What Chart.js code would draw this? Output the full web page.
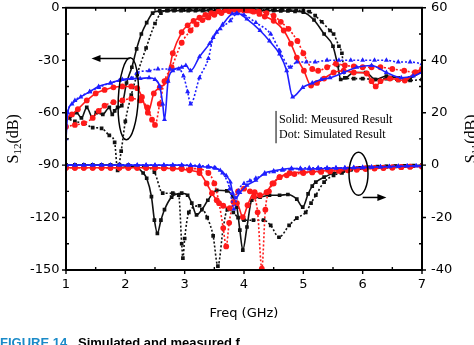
<!DOCTYPE html>
<html>
<head>
<meta charset="utf-8">
<script src="https://cdn.jsdelivr.net/npm/chart.js@4.4.0/dist/chart.umd.min.js"></script>
<style>
  html, body { margin: 0; padding: 0; background: #fff; }
  #wrap { width: 474px; height: 345px; position: relative; }
</style>
</head>
<body>
<div id="wrap"><canvas id="chart"></canvas></div>
<script>
// S12 curves, left axis (dB)
const s12BlackMeasFreq = [1.0,1.06,1.18,1.26,1.35,1.45,1.51,1.62,1.73,1.78, 1.82,1.87,1.94,2.02,2.11,2.19,2.27,2.36,2.46,2.58, 2.7,2.82,2.94,3.06,3.18,3.3,3.42,3.54,3.66,3.78, 3.9,4.02,4.14,4.26,4.38,4.5,4.62,4.74,4.86,5.0, 5.18,5.35,5.5,5.58,5.63,5.72,5.85,6.05,6.22,6.4, 6.6,6.8,7.0];
const s12BlackMeasDb   = [-62,-63,-60,-63,-57,-63,-60,-61,-57,-61, -59,-57,-56,-43,-34,-23.5,-15,-8.5,-3,-1.8, -1.6,-1.6,-1.6,-1.6,-1.6,-1.6,-1.6,-1.6,-1.6,-1.6, -1.6,-1.6,-1.6,-1.6,-1.7,-1.7,-1.8,-1.8,-2,-2.5, -7,-15,-22,-33,-41,-40,-37,-37,-41,-39, -40,-40,-36];
const s12BlackSimFreq  = [1.0,1.15,1.3,1.45,1.6,1.73,1.82,1.87,1.93,2.0, 2.1,2.2,2.35,2.5,2.6,2.72,2.84,2.96,3.08,3.2, 3.32,3.44,3.56,3.68,3.8,3.92,4.04,4.16,4.28,4.4, 4.52,4.64,4.76,4.88,5.0,5.1,5.2,5.31,5.45,5.51, 5.6,5.65,5.7,5.85,6.0,6.2,6.4,6.6,6.8,7.0];
const s12BlackSimDb    = [-63,-65,-66,-68.5,-69,-73,-77,-93,-82,-65, -50,-38,-23,-9,-3,-1.5,-1.2,-1.2,-1.2,-1.2, -1.2,-1.2,-1.2,-1.2,-1.2,-1.2,-1.2,-1.2,-1.2,-1.2, -1.2,-1.2,-1.3,-1.4,-1.6,-2.2,-4.5,-8,-13,-15, -22,-26,-40,-40.5,-40.5,-41,-40.5,-41.5,-41.6,-41];
const s12RedMeasFreq   = [1.0,1.1,1.2,1.35,1.5,1.65,1.8,1.95,2.1,2.2, 2.28,2.38,2.48,2.58,2.7,2.8,2.95,3.05,3.15,3.25, 3.35,3.45,3.57,3.7,3.82,3.94,4.06,4.16,4.26,4.35, 4.5,4.67,4.79,4.89,5.01,5.13,5.23,5.35,5.51,5.68, 5.85,6.07,6.15,6.22,6.3,6.46,6.6,6.71,6.88,7.0];
const s12RedMeasDb     = [-63,-61,-58,-53,-49,-47,-45.5,-45,-45,-46, -51,-60,-49,-45.6,-41.6,-26,-14,-10,-7.5,-5.7, -4,-3,-2,-1.2,-1,-1,-1.5,-2.2,-3.5,-5, -7.4,-13,-20.5,-28.5,-36,-44.5,-43,-40.5,-37,-36, -37,-37.6,-42,-45,-42,-40.5,-41,-41.6,-37,-35];
const s12RedSimFreq    = [1.0,1.15,1.3,1.45,1.55,1.65,1.8,1.95,2.1,2.25, 2.37,2.45,2.5,2.58,2.66,2.78,2.95,3.1,3.2,3.3, 3.4,3.5,3.62,3.75,3.88,4.0,4.12,4.25,4.38,4.5, 4.62,4.75,4.9,5.0,5.15,5.25,5.4,5.55,5.7,5.85, 6.0,6.15,6.3,6.5,6.7,6.9,7.0];
const s12RedSimDb      = [-68,-67,-66,-63,-59,-56,-54,-53,-52,-53, -57,-64,-67,-55,-42,-34,-20,-13,-9.5,-7, -5.5,-4,-3,-2,-1.5,-1.5,-1.7,-2,-3,-4.5, -8,-12,-19,-26,-35,-36,-34,-32,-33,-33.5, -34,-34,-34,-35,-36,-37,-36];
const s12BlueMeasFreq  = [1.0,1.03,1.1,1.25,1.4,1.55,1.75,1.95,2.1,2.25, 2.4,2.5,2.58,2.63,2.66,2.72,2.8,2.95,3.02,3.1, 3.25,3.42,3.54,3.64,3.8,3.88,4.05,4.27,4.43,4.6, 4.72,4.82,4.99,5.15,5.3,5.45,5.68,5.9,6.15,6.4, 6.65,6.85,7.0];
const s12BlueMeasDb    = [-75,-60,-55,-51,-48,-45,-43,-41,-40.5,-40.5, -40,-41,-45,-55,-64,-42,-36,-34,-33,-36, -28,-20.5,-14,-9.5,-3.5,-3,-6.5,-13,-19,-26.5, -36,-51,-45.6,-43,-41,-40,-37,-34,-33,-37, -40,-39,-37];
const s12BlueSimFreq   = [1.0,1.15,1.4,1.55,1.75,1.9,2.1,2.2,2.4,2.55, 2.75,2.9,2.98,3.05,3.1,3.25,3.4,3.48,3.6,3.77, 3.88,4.0,4.2,4.45,4.6,4.78,4.89,5.05,5.2,5.4, 5.6,5.8,6.0,6.2,6.4,6.6,6.8,7.0];
const s12BlueSimDb     = [-59,-53,-48,-45.6,-43,-41.6,-40.5,-37,-36,-35, -35,-35,-39,-48,-55,-40,-29,-17,-12,-7.4, -3.5,-4,-8.5,-15,-24.5,-34,-31,-31,-31,-30, -30,-30,-30,-30,-30,-31,-31,-32];

// S11 curves, right axis (dB)
const s11BlackMeasFreq = [1.0,1.15,1.3,1.45,1.6,1.75,1.9,2.05, 2.2,2.3,2.36,2.44,2.49,2.54,2.6,2.66,2.78,2.95, 3.05,3.12,3.2,3.29,3.39,3.54,3.71,3.81,3.88,3.93, 3.98,4.05,4.13,4.27,4.43,4.6,4.74,4.89,4.99,5.08, 5.15,5.21,5.35,5.51,5.65,5.8,5.95,6.1,6.25,6.4, 6.55,6.7,6.85,7.0];
const s11BlackMeasDb   = [0,0,0,0,0,0,0,-0.5, -1,-3,-5,-12,-21,-26,-21,-17,-12.2,-10.7, -11.5,-14.5,-19,-17,-13.4,-9.6,-9.8,-12,-16,-24.8, -32.4,-23.6,-13.4,-12.2,-11.5,-11.5,-11.2,-13,-16,-11, -8,-6.5,-4.6,-3.1,-2.5,-1.5,-1,-0.8,-0.6,-0.5, -0.4,-0.3,-0.2,0];
const s11BlackSimFreq  = [1.0,1.15,1.3,1.45,1.6,1.75,1.9,2.05,2.2,2.35, 2.49,2.63,2.8,2.9,2.95,2.97,3.0,3.07,3.25,3.38, 3.48,3.56,3.65,3.72,3.82,3.9,4.0,4.16,4.33,4.45, 4.59,4.76,4.89,5.04,5.13,5.21,5.35,5.51,5.65,5.8, 5.95,6.1,6.25,6.4,6.55,6.7,6.85,7.0];
const s11BlackSimDb    = [0,0,0,0,0,0,0,0,-0.3,-0.8, -2.7,-10.7,-10.7,-11.5,-30,-35.5,-28,-18,-15.5,-20, -27,-38.5,-24,-17,-18,-20,-21,-21,-21,-23, -27.5,-23,-20.2,-18,-14.5,-11.5,-6.5,-3.9,-3,-1.8, -1.2,-0.9,-0.7,-0.6,-0.5,-0.4,-0.3,-0.2];
const s11RedMeasFreq   = [1.0,1.15,1.3,1.45,1.6,1.75,1.9,2.05,2.2,2.35, 2.5,2.65,2.8,2.95,3.08,3.25,3.37,3.46,3.54,3.65, 3.76,3.88,3.98,4.06,4.18,4.27,4.38,4.48,4.6,4.77, 4.99,5.15,5.3,5.45,5.6,5.75,5.9,6.05,6.2,6.35, 6.5,6.65,6.8,7.0];
const s11RedMeasDb     = [-1,-1,-1,-1,-1,-1,-1,-1,-1,-1, -1,-1.2,-1.3,-1.5,-2,-3,-7,-10.7,-13.4,-15.5, -16.4,-14.5,-19.8,-15.3,-10.3,-11.5,-10.3,-7,-4.6,-3, -2.7,-2.5,-2.3,-2,-1.8,-1.6,-1.4,-1.2,-1.1,-1, -0.8,-0.7,-0.6,-0.5];
const s11RedSimFreq    = [1.0,1.15,1.3,1.45,1.6,1.75,1.9,2.05,2.2,2.35, 2.5,2.65,2.8,2.95,3.1,3.25,3.4,3.5,3.58,3.65, 3.7,3.75,3.82,3.9,4.0,4.1,4.17,4.23,4.3,4.36, 4.42,4.5,4.6,4.72,4.85,5.0,5.15,5.3,5.45,5.6, 5.75,5.9,6.05,6.2,6.35,6.5,6.65,6.8,7.0];
const s11RedSimDb      = [-1,-1,-1,-1,-1,-1,-1,-1,-1,-1, -1,-1,-1.1,-1.2,-1.3,-1.5,-3,-7,-14.5,-24, -31,-22,-14,-10,-9,-10,-12,-18,-39.5,-17, -10,-7,-4.6,-3.9,-3.4,-3,-2.8,-2.6,-2.4,-2.2, -2,-1.8,-1.5,-1.3,-1.1,-1,-0.8,-0.6,-0.5];
const s11BlueMeasFreq  = [1.0,1.15,1.3,1.45,1.6,1.75,1.9,2.05,2.2,2.35, 2.5,2.65,2.8,2.95,3.1,3.25,3.4,3.5,3.6,3.7, 3.77,3.81,3.86,3.93,4.05,4.2,4.35,4.5,4.65,4.8, 4.95,5.1,5.25,5.4,5.55,5.7,5.85,6.0,6.15,6.3, 6.45,6.6,6.75,6.9,7.0];
const s11BlueMeasDb    = [0,0,0,0,0,0,0,0,0,0, 0,0,0,0,-0.2,-0.5,-0.8,-1,-2,-4, -6.5,-10.7,-12.6,-10.5,-7.7,-5.8,-3,-2.2,-1.6,-1.2, -1.5,-1.5,-1.4,-1.3,-1.2,-1.1,-1,-1,-0.8,-0.7, -0.6,-0.5,-0.4,-0.3,-0.3];
const s11BlueSimFreq   = [1.0,1.15,1.3,1.45,1.6,1.75,1.9,2.05,2.2,2.35, 2.5,2.65,2.8,2.95,3.1,3.25,3.4,3.52,3.64,3.76, 3.83,3.9,4.0,4.1,4.2,4.35,4.5,4.65,4.8,4.95, 5.1,5.25,5.4,5.55,5.7,5.85,6.0,6.15,6.3,6.45, 6.6,6.75,6.9,7.0];
const s11BlueSimDb     = [0,0,0,0,0,0,0,0,0,0, 0,0,0,0,0,-0.2,-0.5,-1.2,-3,-9, -16.8,-10,-7,-6,-5,-3.5,-2.5,-2,-1.5,-1.2, -1,-1,-1,-1,-1,-0.9,-0.8,-0.7,-0.6,-0.5, -0.4,-0.3,-0.3,-0.3];

const BLACK = '#111111', RED = '#ff1a1a', BLUE = '#1f1fff';
const SANS = '"DejaVu Sans", Verdana, sans-serif';
const SERIF = '"Liberation Serif", "DejaVu Serif", serif';

function series(freq, vals, color, style, dotted, axis) {
  return {
    data: freq.map((f, i) => ({ x: f, y: vals[i] })),
    borderColor: color,
    backgroundColor: color,
    pointStyle: style,
    pointRadius: style === 'rect' ? 2.6 : 2.9,
    pointBorderWidth: 0,
    borderWidth: 1.6,
    borderDash: dotted ? [2, 2] : [],
    yAxisID: axis,
    showLine: true,
    cubicInterpolationMode: 'monotone'
  };
}

// frame with ticks: majors outward, minors inward, top ticks inward
const frameTicks = {
  id: 'frameTicks',
  afterDatasetsDraw(chart) {
    const { ctx, chartArea: a, scales } = chart;
    ctx.save();
    ctx.strokeStyle = '#000';
    ctx.lineWidth = 2;
    ctx.strokeRect(a.left, a.top, a.right - a.left, a.bottom - a.top);
    ctx.lineWidth = 1.4;
    ctx.beginPath();
    const xs = scales.x.ticks.map(t => t.value);
    xs.forEach((v, i) => {
      const p = scales.x.getPixelForValue(v);
      ctx.moveTo(p, a.bottom); ctx.lineTo(p, a.bottom + 4);
      ctx.moveTo(p, a.top); ctx.lineTo(p, a.top + 4);
      if (i < xs.length - 1) {
        const m = scales.x.getPixelForValue((v + xs[i + 1]) / 2);
        ctx.moveTo(m, a.bottom); ctx.lineTo(m, a.bottom - 3);
        ctx.moveTo(m, a.top); ctx.lineTo(m, a.top + 3);
      }
    });
    [['y', a.left, -1], ['y1', a.right, 1]].forEach(([id, edge, dir]) => {
      const sc = scales[id];
      const vs = sc.ticks.map(t => t.value);
      vs.forEach((v, i) => {
        const p = sc.getPixelForValue(v);
        ctx.moveTo(edge, p); ctx.lineTo(edge + 4 * dir, p);
        if (i < vs.length - 1) {
          const m = sc.getPixelForValue((v + vs[i + 1]) / 2);
          ctx.moveTo(edge, m); ctx.lineTo(edge - 3 * dir, m);
        }
      });
    });
    ctx.stroke();
    ctx.restore();
  }
};

function arrow(ctx, x0, y, x1) {
  const d = Math.sign(x1 - x0);
  ctx.beginPath();
  ctx.moveTo(x0, y); ctx.lineTo(x1 - 6 * d, y);
  ctx.stroke();
  ctx.beginPath();
  ctx.moveTo(x1, y); ctx.lineTo(x1 - 9 * d, y - 3.5); ctx.lineTo(x1 - 9 * d, y + 3.5);
  ctx.closePath(); ctx.fill();
}

function vTitle(ctx, cx, cy, sub) {
  ctx.save();
  ctx.translate(cx, cy);
  ctx.rotate(-Math.PI / 2);
  ctx.fillStyle = '#000';
  ctx.textBaseline = 'alphabetic';
  ctx.textAlign = 'left';
  const big = '16px ' + SERIF, small = '11px ' + SERIF;
  ctx.font = big; const wS = ctx.measureText('S').width; const wD = ctx.measureText('(dB)').width;
  ctx.font = small; const wSub = ctx.measureText(sub).width;
  let x0 = -(wS + wSub + wD) / 2;
  ctx.font = big; ctx.fillText('S', x0, 0);
  ctx.font = small; ctx.fillText(sub, x0 + wS, 3);
  ctx.font = big; ctx.fillText('(dB)', x0 + wS + wSub, 0);
  ctx.restore();
}

const annotations = {
  id: 'annotations',
  afterDraw(chart) {
    const { ctx, chartArea: a, scales } = chart;
    const px = f => scales.x.getPixelForValue(f);
    const py = v => scales.y.getPixelForValue(v);
    ctx.save();
    ctx.strokeStyle = '#000';
    ctx.fillStyle = '#000';
    ctx.lineWidth = 1.5;
    // S12 marker ellipse and arrow
    ctx.beginPath();
    ctx.ellipse(px(2.05), py(-52), 10, 41, 0.05, 0, Math.PI * 2);
    ctx.stroke();
    arrow(ctx, px(2.07), py(-29), px(1.43));
    // S11 marker ellipse and arrow
    ctx.beginPath();
    ctx.ellipse(px(5.93), py(-95), 9.5, 21.5, 0, 0, Math.PI * 2);
    ctx.stroke();
    arrow(ctx, px(6.0), py(-108.5), px(6.4));
    // note
    ctx.lineWidth = 1;
    ctx.beginPath();
    ctx.moveTo(px(4.54), py(-59)); ctx.lineTo(px(4.54), py(-77.5));
    ctx.stroke();
    ctx.font = '12px ' + SERIF;
    ctx.textAlign = 'left';
    ctx.textBaseline = 'alphabetic';
    ctx.fillText('Solid: Meusured Result', px(4.59), py(-65.8));
    ctx.fillText('Dot: Simulated Result', px(4.59), py(-74.6));
    // axis titles
    vTitle(ctx, 18, (a.top + a.bottom) / 2, '12');
    vTitle(ctx, 476, (a.top + a.bottom) / 2, '11');
    ctx.fillStyle = '#000';
    ctx.font = '13px ' + SANS;
    ctx.textAlign = 'center';
    ctx.textBaseline = 'middle';
    ctx.fillText('Freq (GHz)', (a.left + a.right) / 2, 314);
    // caption (cut by the bottom edge)
    ctx.textAlign = 'left';
    ctx.textBaseline = 'top';
    ctx.font = 'bold 13px "Liberation Sans", Arial, sans-serif';
    ctx.fillStyle = '#1a8ac8';
    ctx.fillText('FIGURE 14.', 0, 337);
    ctx.fillStyle = '#000';
    ctx.fillText('Simulated and measured f', 78, 337);
    ctx.restore();
  }
};

new Chart(document.getElementById('chart'), {
  type: 'scatter',
  data: {
    datasets: [
      series(s11BlueSimFreq, s11BlueSimDb, BLUE, 'triangle', true, 'y1'),
      series(s11BlueMeasFreq, s11BlueMeasDb, BLUE, 'triangle', false, 'y1'),
      series(s11RedSimFreq, s11RedSimDb, RED, 'circle', true, 'y1'),
      series(s11RedMeasFreq, s11RedMeasDb, RED, 'circle', false, 'y1'),
      series(s11BlackSimFreq, s11BlackSimDb, BLACK, 'rect', true, 'y1'),
      series(s11BlackMeasFreq, s11BlackMeasDb, BLACK, 'rect', false, 'y1'),
      series(s12BlueSimFreq, s12BlueSimDb, BLUE, 'triangle', true, 'y'),
      series(s12BlueMeasFreq, s12BlueMeasDb, BLUE, 'triangle', false, 'y'),
      series(s12RedSimFreq, s12RedSimDb, RED, 'circle', true, 'y'),
      series(s12RedMeasFreq, s12RedMeasDb, RED, 'circle', false, 'y'),
      series(s12BlackSimFreq, s12BlackSimDb, BLACK, 'rect', true, 'y'),
      series(s12BlackMeasFreq, s12BlackMeasDb, BLACK, 'rect', false, 'y')
    ]
  },
  options: {
    responsive: true,
    maintainAspectRatio: false,
    animation: false,
    layout: { padding: 0 },
    plugins: { legend: { display: false }, tooltip: { enabled: false } },
    scales: {
      x: {
        type: 'linear', min: 1, max: 7,
        ticks: { stepSize: 1, color: '#000', padding: 7, font: { family: SANS, size: 13 } },
        grid: { display: false, drawTicks: false, tickLength: 0 },
        border: { display: false },
        afterFit: s => { s.height = 75; }
      },
      y: {
        position: 'left', min: -150, max: 0,
        ticks: { stepSize: 30, color: '#000', padding: 0, font: { family: SANS, size: 13 },
                 callback: v => v + '\u2002' },
        grid: { display: false, drawTicks: false, tickLength: 0 },
        border: { display: false },
        afterFit: s => { s.width = 66; }
      },
      y1: {
        position: 'right', min: -40, max: 60,
        ticks: { stepSize: 20, color: '#000', padding: 0, font: { family: SANS, size: 13 },
                 callback: v => '\u2002\u2009' + v },
        grid: { display: false, drawTicks: false, tickLength: 0 },
        border: { display: false },
        afterFit: s => { s.width = 52; }
      }
    }
  },
  plugins: [frameTicks, annotations]
});
</script>
</body>
</html>
